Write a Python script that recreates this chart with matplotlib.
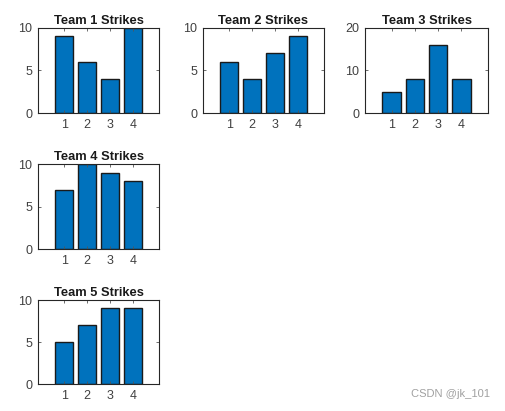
import matplotlib.pyplot as plt

plt.rcParams['font.family'] = ['Liberation Sans', 'DejaVu Sans']

teams = ["Team 1", "Team 2", "Team 3", "Team 4", "Team 5"]
games = [1, 2, 3, 4]
strikes = [
    [9, 6, 4, 10],
    [6, 4, 7, 9],
    [5, 8, 16, 8],
    [7, 10, 9, 8],
    [5, 7, 9, 9],
]
ylims = [10, 10, 20, 10, 10]
yticks = [[0, 5, 10], [0, 5, 10], [0, 10, 20], [0, 5, 10], [0, 5, 10]]

W, H = 506, 411
# axes boxes in pixels: left, top, right, bottom
boxes = [
    (38, 28, 159, 113),
    (203, 28, 324, 113),
    (365, 28, 488, 113),
    (38, 164, 159, 249),
    (38, 300, 159, 384),
]

fig = plt.figure(figsize=(W / 100, H / 100), dpi=100)
txt = "#404040"

for i in range(5):
    l, t, r, b = boxes[i]
    ax = fig.add_axes([l / W, 1 - b / H, (r - l) / W, (b - t) / H])
    ax.bar(games, strikes[i], width=0.8, color="#0072BD", edgecolor="#1a1a1a", linewidth=1.0)
    ax.set_xlim(-0.15, 5.15)
    ax.set_ylim(0, ylims[i])
    ax.set_xticks(games)
    ax.set_yticks(yticks[i])
    ax.tick_params(direction="in", length=2, width=0.6, colors="#555555",
                   labelcolor=txt, labelsize=9, top=True, right=True, pad=4)
    for s in ax.spines.values():
        s.set_color("#262626")
        s.set_linewidth(0.8)
    ax.set_title(teams[i] + " Strikes", fontsize=9.3, fontweight="bold", color="#1a1a1a", pad=3)

fig.text(490 / W, 1 - 394 / H, "CSDN @jk_101", ha="right", va="center", fontsize=8, color="#a0a0a0")

fig.savefig("out.png", dpi=100)
